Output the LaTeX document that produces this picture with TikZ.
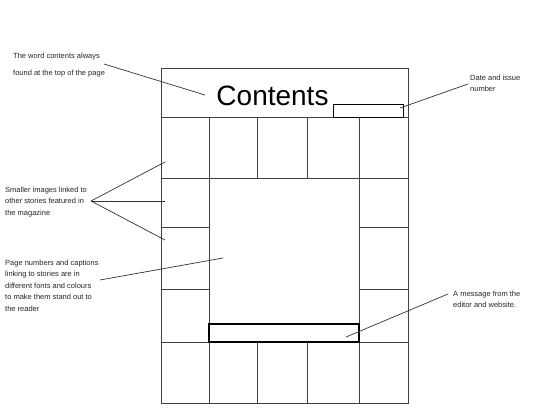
\documentclass[tikz,border=0pt]{standalone}
\usepackage{fontspec}
\setmainfont{Liberation Sans}
\begin{document}
\begin{tikzpicture}[x=1pt,y=-1pt,
  gridline/.style={draw=black!75,line width=0.8pt},
  boxline/.style={draw=black,line width=1.3pt},
  pointer/.style={draw=black!80,line width=0.7pt},
  note/.style={font=\fontsize{7.5}{11.5}\selectfont,align=left,anchor=north west,inner sep=0pt,text=black!85},
  box/.style={rectangle,inner sep=0pt,outer sep=0pt,anchor=north west}]
\useasboundingbox[fill=white] (0,0) rectangle (560,420);
% page
\node[box,gridline,minimum width=247pt,minimum height=335pt] (page) at (161,68) {};
\draw[gridline] (161,117) -- (408,117);
\draw[gridline] (161,178) -- (408,178);
\draw[gridline] (161,342) -- (408,342);
\foreach \x in {257,307} {\draw[gridline] (\x,117) -- (\x,178); \draw[gridline] (\x,342) -- (\x,403);}
\draw[gridline] (209,117) -- (209,403);
\draw[gridline] (359,117) -- (359,403);
\foreach \y in {227,289} {\draw[gridline] (161,\y) -- (209,\y); \draw[gridline] (359,\y) -- (408,\y);}
% title and boxes
\node[anchor=base,inner sep=0pt,font=\fontsize{28}{30}\selectfont] (title) at (272.5,106) {Contents};
\node[box,draw=black,line width=0.9pt,minimum width=70pt,minimum height=13pt] (date) at (333,104) {};
\node[box,boxline,minimum width=150pt,minimum height=18pt] (caption) at (209,324) {};
% annotations
\node[note] (n1) at (13,52.5) {The word contents always\\[5.5pt]found at the top of the page};
\node[note] (n2) at (470,74.5) {Date and issue\\number};
\node[note] (n3) at (5,186.5) {Smaller images linked to\\other stories featured in\\the magazine};
\node[note] (n4) at (5,259.5) {Page numbers and captions\\linking to stories are in\\different fonts and colours\\to make them stand out to\\the reader};
\node[note] (n5) at (453,290.5) {A message from the\\editor and website.};
% pointer end points
\coordinate (a1) at (104,64);   \coordinate (b1) at (205,95);
\coordinate (a2) at (468,84);   \coordinate (b2) at (400,108);
\coordinate (a3) at (91,201);
\coordinate (b3a) at (165,162); \coordinate (b3b) at (165,201); \coordinate (b3c) at (165,240);
\coordinate (a4) at (100,280);  \coordinate (b4) at (223,258);
\coordinate (a5) at (448,294);  \coordinate (b5) at (346,337);
\draw[pointer] (a1) -- (b1);
\draw[pointer] (a2) -- (b2);
\draw[pointer] (a3) -- (b3a);
\draw[pointer] (a3) -- (b3b);
\draw[pointer] (a3) -- (b3c);
\draw[pointer] (a4) -- (b4);
\draw[pointer] (a5) -- (b5);
\end{tikzpicture}
\end{document}
